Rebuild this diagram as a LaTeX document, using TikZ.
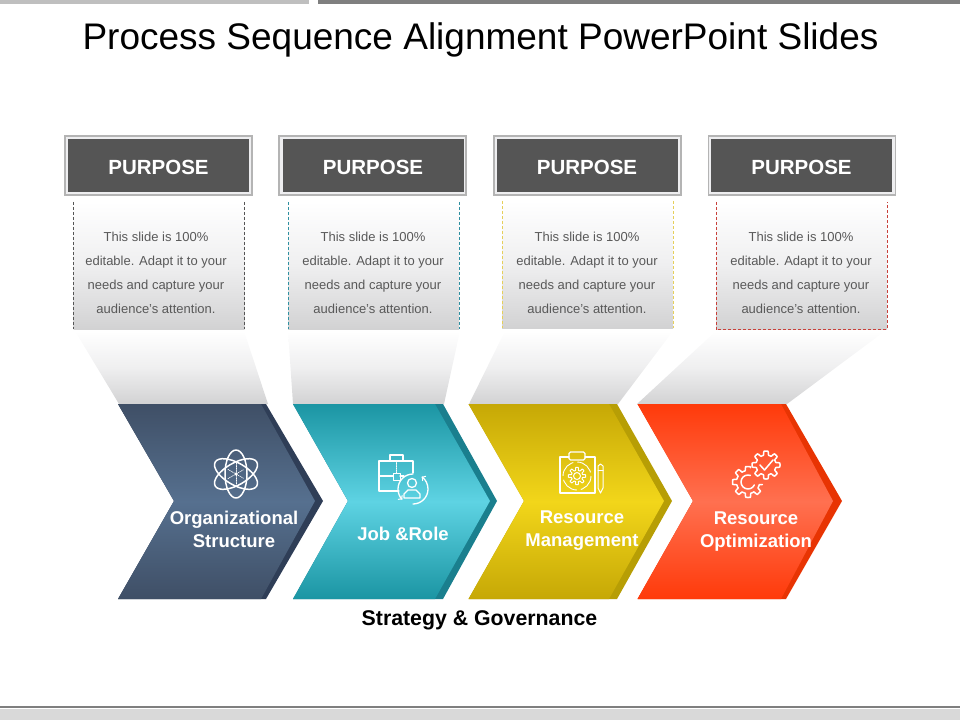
\documentclass[tikz,border=0pt]{standalone}
\usepackage{fontspec}
\setmainfont{Liberation Sans}
\definecolor{barlight}{HTML}{BFBFBF}
\definecolor{bardark}{HTML}{7F7F7F}
\definecolor{footgray}{HTML}{D9D9D9}
\definecolor{headgray}{HTML}{555555}
\definecolor{framefill}{HTML}{EEEEF0}
\definecolor{frameline}{HTML}{B4B4B4}
\definecolor{copygray}{HTML}{595959}
\definecolor{fadegray}{HTML}{D2D2D3}
\definecolor{fademid}{HTML}{EFEFF0}
\definecolor{blueedge}{HTML}{3F4F66}
\definecolor{bluemid}{HTML}{56708F}
\definecolor{bluestrip}{HTML}{2F3E57}
\definecolor{tealedge}{HTML}{1B95A3}
\definecolor{tealmid}{HTML}{5ED3E3}
\definecolor{tealstrip}{HTML}{1A7F8E}
\definecolor{goldedge}{HTML}{C6A806}
\definecolor{goldmid}{HTML}{F2D61A}
\definecolor{goldstrip}{HTML}{B79E05}
\definecolor{rededge}{HTML}{FF3A0A}
\definecolor{redmid}{HTML}{FF7050}
\definecolor{redstrip}{HTML}{E83403}
\definecolor{dashyellow}{HTML}{E6CF5A}
\definecolor{dashred}{HTML}{C8403A}
\definecolor{dashteal}{HTML}{2F8FA0}
\begin{document}
\begin{tikzpicture}[x=1pt,y=-1pt]
        \tikzstyle{frame}=[rectangle,draw=frameline,line width=1.2pt,fill=framefill,minimum width=187pt,minimum height=59pt]
        \tikzstyle{purpose}=[rectangle,fill=headgray,text=white,inner sep=0pt,minimum width=181pt,minimum height=53pt,text height=18pt,text depth=0pt,font=\fontsize{20.5}{24}\selectfont\bfseries]
        \tikzstyle{slidebox}=[rectangle,top color=white,bottom color=fadegray,middle color=fademid,inner sep=0pt,minimum width=171pt,minimum height=127pt]
        \tikzstyle{copy}=[align=center,text=copygray,font=\fontsize{13}{24}\selectfont]
        \tikzstyle{funnel}=[top color=white,bottom color=fadegray,middle color=fademid]
        \tikzstyle{label}=[align=center,text=white,font=\fontsize{18.5}{23}\selectfont\bfseries]
        \tikzstyle{icon}=[draw=white,line width=1.3pt,line join=round,line cap=round]
        \useasboundingbox (0,0) rectangle (960,720);
        \fill[barlight] (0,0) rectangle (309,4);
        \fill[bardark] (318,0) rectangle (960,4);
        \fill[bardark] (0,706) rectangle (960,708);
        \fill[footgray] (0,709) rectangle (960,720);
        \node (title) at (480.5,40) {\fontsize{37}{40}\selectfont Process Sequence Alignment PowerPoint Slides};

        \node [frame] (f1) at (158.5,165.5) {};
        \node [frame] (f2) at (372.5,165.5) {};
        \node [frame] (f3) at (587.5,165.5) {};
        \node [frame] (f4) at (802,165.5) {};
        \node [purpose] (p1) at (158.5,165.5) {PURPOSE};
        \node [purpose] (p2) at (373,165.5) {PURPOSE};
        \node [purpose] (p3) at (587,165.5) {PURPOSE};
        \node [purpose] (p4) at (801.5,165.5) {PURPOSE};

        \node [slidebox] (b1) at (159,265.5) {};
        \node [slidebox] (b2) at (373.5,265.5) {};
        \node [slidebox] (b3) at (587.5,264.5) {};
        \node [slidebox] (b4) at (801.5,265.5) {};
        \node [copy] (t1) at (156,272.5) {This slide is 100\%\\editable. Adapt it to your\\needs and capture your\\audience's attention.};
        \node [copy] (t2) at (373,272.5) {This slide is 100\%\\editable. Adapt it to your\\needs and capture your\\audience's attention.};
        \node [copy] (t3) at (587,272.5) {This slide is 100\%\\editable. Adapt it to your\\needs and capture your\\audience's attention.};
        \node [copy] (t4) at (801,272.5) {This slide is 100\%\\editable. Adapt it to your\\needs and capture your\\audience's attention.};

        \draw[headgray,densely dashed,line width=0.6pt] (b1.north west) -- (b1.south west);
        \draw[headgray,densely dashed,line width=0.6pt] (b1.north east) -- (b1.south east);
        \draw[dashteal,densely dashed,line width=0.6pt] (b2.north west) -- (b2.south west);
        \draw[dashteal,densely dashed,line width=0.6pt] (b2.north east) -- (b2.south east);
        \draw[dashyellow,densely dashed,line width=0.6pt] (b3.north west) -- (b3.south west);
        \draw[dashyellow,densely dashed,line width=0.6pt] (b3.north east) -- (b3.south east);
        \draw[dashred,densely dashed,line width=0.6pt] (b4.north west) -- (b4.south west) -- (b4.south east) -- (b4.north east);

        \shade[funnel] (75,331) -- (244,331) -- (268,404) -- (119,404) -- cycle;
        \shade[funnel] (288,331) -- (460,331) -- (444,404) -- (293,404) -- cycle;
        \shade[funnel] (505,331) -- (673,331) -- (618,404) -- (469,404) -- cycle;
        \shade[funnel] (716,331) -- (885,331) -- (787,404) -- (637,404) -- cycle;

        \fill[bluestrip] (118,404) -- (266,404) -- (323,501) -- (266,599) -- (118,599) -- (174,501) -- cycle;
        \shade[top color=blueedge,bottom color=blueedge,middle color=bluemid] (118,404) -- (261,404) -- (315,501) -- (261,599) -- (118,599) -- (174,501) -- cycle;
        \fill[tealstrip] (293,404) -- (443,404) -- (497,501) -- (443,599) -- (293,599) -- (348,501) -- cycle;
        \shade[top color=tealedge,bottom color=tealedge,middle color=tealmid] (293,404) -- (435,404) -- (490,501) -- (435,599) -- (293,599) -- (348,501) -- cycle;
        \fill[goldstrip] (468.5,404) -- (617,404) -- (672,501) -- (617,599) -- (468.5,599) -- (524,501) -- cycle;
        \shade[top color=goldedge,bottom color=goldedge,middle color=goldmid] (468.5,404) -- (609,404) -- (664,501) -- (609,599) -- (468.5,599) -- (524,501) -- cycle;
        \fill[redstrip] (637.5,404) -- (786,404) -- (842,501) -- (786,599) -- (637.5,599) -- (693,501) -- cycle;
        \shade[top color=rededge,bottom color=rededge,middle color=redmid] (637.5,404) -- (781,404) -- (833,501) -- (781,599) -- (637.5,599) -- (693,501) -- cycle;

        \node [label] (l1) at (234,529.5) {Organizational\\Structure};
        \node [label] (l2) at (403,534) {Job \&Role};
        \node [label] (l3) at (582,531) {Resource\\Management};
        \node [label] (l4) at (756,531.5) {Resource\\Optimization};
        \node (caption) at (479.5,620.5) {\fontsize{21.3}{24}\selectfont\bfseries Strategy \& Governance};

        \begin{scope}[shift={(236,474)}]
         \draw[icon,line width=1.5pt] (0,0) ellipse [x radius=24,y radius=11,rotate=90];
         \draw[icon,line width=1.5pt] (0,0) ellipse [x radius=24,y radius=11,rotate=30];
         \draw[icon,line width=1.5pt] (0,0) ellipse [x radius=24,y radius=11,rotate=150];
         \draw[icon,line width=0.7pt,densely dotted] (0,-11) -- (0,11);
         \draw[icon,line width=0.7pt,densely dotted] (-8,-4.6) -- (8,4.6);
         \draw[icon,line width=0.7pt,densely dotted] (-8,4.6) -- (8,-4.6);
         \fill[white] (0,0) circle (1.6);
        \end{scope}

        \begin{scope}
         \draw[icon] (399,491) -- (379,491) -- (379,461) -- (413,461) -- (413,473);
         \draw[icon] (390,461) -- (390,455) -- (403,455) -- (403,461);
         \draw[icon] (379,476) -- (393,476);
         \draw[icon] (400,476) -- (404,476);
         \draw[icon,line width=0.8pt] (393,473) rectangle (400,480);
         \draw[icon,line width=0.8pt,densely dotted] (396.5,461) -- (396.5,473);
         \draw[icon,->] (413,504) arc [start angle=90,end angle=-55,radius=15];
         \draw[icon,->] (413,474) arc [start angle=-90,end angle=-225,radius=15];
         \draw[icon] (412,483) circle (4.5);
         \draw[icon] (404,498) -- (404,494) -- (408,490) -- (416,490) -- (420,494) -- (420,498) -- cycle;
        \end{scope}

        \begin{scope}
         \draw[icon] (569,457) -- (560,457) -- (560,493) -- (595,493) -- (595,457) -- (585,457);
         \draw[icon,rounded corners=1.5pt] (569,452) rectangle (585,460);
         \draw[icon,line width=0.9pt,line cap=butt,dash pattern=on 18pt off 4pt] (577,476) circle (14);
         \draw[icon,line width=1pt,shift={(577,476)}] plot[domain=0:360,samples=145] (\x:{7.2+1.5*max(-1,min(1,3*cos(8*\x)))}) -- cycle;
         \draw[icon,line width=1pt] (577,476) circle (3.5);
         \draw[icon,line width=1pt] (598,466) -- (598,488) -- (600.5,493) -- (603,488) -- (603,466) -- (600.5,464) -- cycle;
         \draw[icon,line width=1pt] (598,470) -- (603,470);
        \end{scope}

        \begin{scope}
         \draw[icon,line width=1.5pt,shift={(766,465)}] plot[domain=0:360,samples=145] (\x:{12+2*max(-1,min(1,3*cos(8*\x)))}) -- cycle;
         \draw[icon,line width=1.5pt,shift={(748,482)}] plot[domain=10:280,samples=145] (\x:{13.5+2*max(-1,min(1,3*cos(8*\x)))});
         \draw[icon,line width=1.5pt] (748,482) ++(25:7) arc [start angle=25,end angle=290,radius=7];
         \draw[icon,line width=1.5pt] (760,465) -- (764.5,470) -- (773,460);
        \end{scope}
      \end{tikzpicture}
\end{document}
